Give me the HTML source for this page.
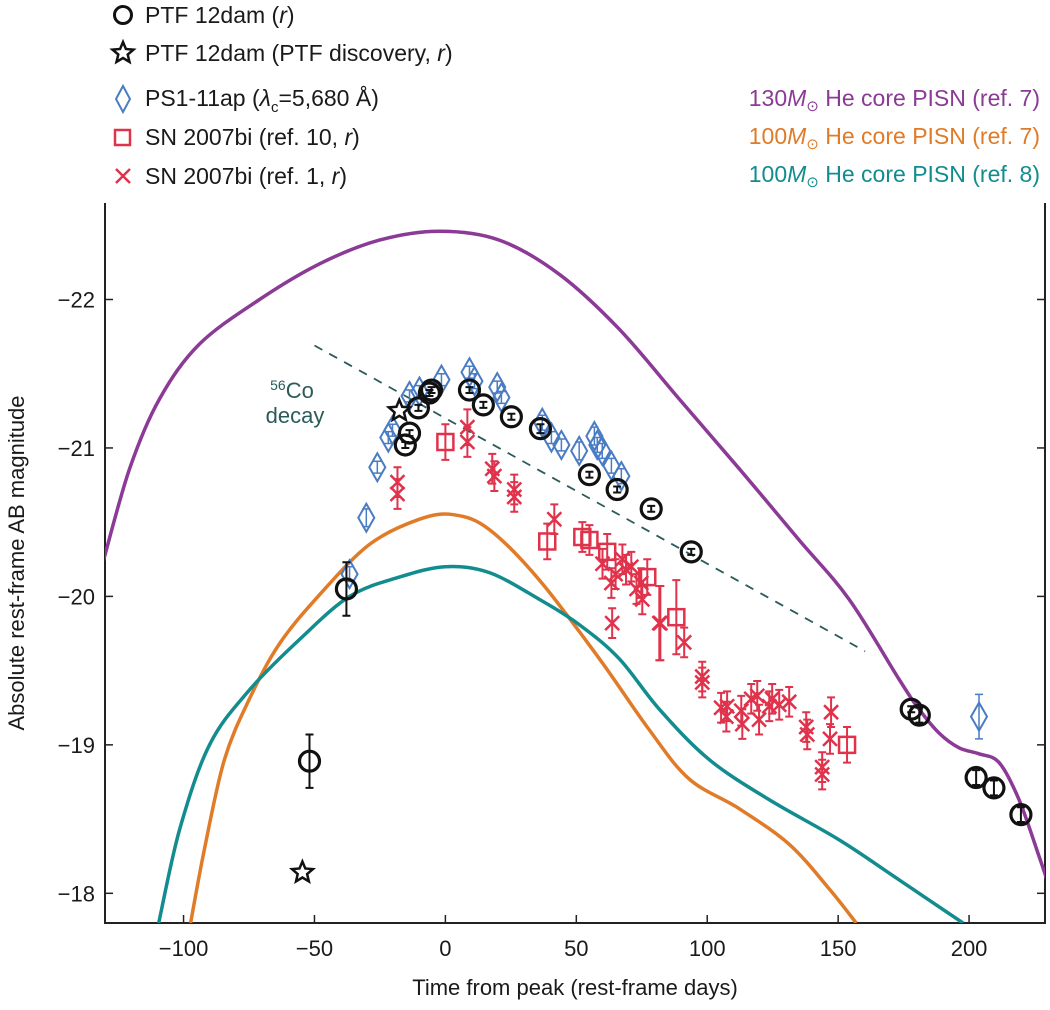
<!DOCTYPE html>
<html><head><meta charset="utf-8"><style>
body{margin:0;background:#fff;}
svg text{font-family:"Liberation Sans",Arial,sans-serif;}
</style></head><body>
<svg id="chart" width="1050" height="1005" viewBox="0 0 1050 1005" xmlns="http://www.w3.org/2000/svg">
<g id="legend" font-size="23" fill="#1a1a1a">
 <g><circle cx="123" cy="15" r="8.5" fill="none" stroke="#111" stroke-width="3"/><text x="145" y="23">PTF 12dam (<tspan font-style="italic">r</tspan>)</text></g>
 <g><polygon id="legstar" fill="none" stroke="#111" stroke-width="2.5"/><text x="145" y="61">PTF 12dam (PTF discovery, <tspan font-style="italic">r</tspan>)</text></g>
 <g><polygon points="123,86 130,99 123,112 116,99" fill="none" stroke="#4a7cc4" stroke-width="2"/><text x="145" y="106">PS1-11ap (<tspan font-style="italic">λ</tspan><tspan font-size="15" dy="6">c</tspan><tspan dy="-6">=5,680 Å)</tspan></text></g>
 <g><rect x="115" y="130" width="15" height="15" fill="none" stroke="#e0324b" stroke-width="2.5"/><text x="145" y="145">SN 2007bi (ref. 10, <tspan font-style="italic">r</tspan>)</text></g>
 <g><path d="M116,169 L130,183 M130,169 L116,183" stroke="#e0324b" stroke-width="2.5"/><text x="145" y="184">SN 2007bi (ref. 1, <tspan font-style="italic">r</tspan>)</text></g>
 <text x="1040" y="106" text-anchor="end" fill="#8b3a96">130<tspan font-style="italic">M</tspan><tspan font-size="15" dy="5">⊙</tspan><tspan dy="-5"> He core PISN (ref. 7)</tspan></text>
 <text x="1040" y="144" text-anchor="end" fill="#e07b28">100<tspan font-style="italic">M</tspan><tspan font-size="15" dy="5">⊙</tspan><tspan dy="-5"> He core PISN (ref. 7)</tspan></text>
 <text x="1040" y="182" text-anchor="end" fill="#138c8f">100<tspan font-style="italic">M</tspan><tspan font-size="15" dy="5">⊙</tspan><tspan dy="-5"> He core PISN (ref. 8)</tspan></text>
</g>
<defs><clipPath id="clip"><rect x="105" y="203" width="940" height="720"/></clipPath></defs>
<g id="plot"></g>
<text x="292" y="398" font-size="22" fill="#2b5b5a" text-anchor="middle"><tspan font-size="14" dy="-8">56</tspan><tspan dy="8">Co</tspan></text>
<text x="295" y="423" font-size="22" fill="#2b5b5a" text-anchor="middle">decay</text>
<text x="575" y="995" font-size="22" text-anchor="middle" fill="#1a1a1a">Time from peak (rest-frame days)</text>
<text transform="translate(24,563) rotate(-90)" font-size="22" text-anchor="middle" fill="#1a1a1a">Absolute rest-frame AB magnitude</text>
</svg>
<script>
const xTicks=[-100,-50,0,50,100,150,200];
const yTicks=[-22,-21,-20,-19,-18];
const ptfDays=[-37.8,-15.3,-13.7,-10.3,-6.1,-5.3,9.2,14.5,25.2,36.3,55,65.6,78.6,93.9,-51.9,177.9,181,202.7,209.5,219.8];
const ptfMags=[-20.05,-21.02,-21.10,-21.27,-21.37,-21.39,-21.39,-21.29,-21.21,-21.13,-20.82,-20.72,-20.59,-20.30,-18.89,-19.24,-19.20,-18.78,-18.71,-18.53];
const ptfErr=[0.18,0.02,0.02,0.02,0.02,0.02,0.02,0.02,0.02,0.03,0.02,0.02,0.02,0.02,0.18,0.02,0.05,0.05,0.05,0.05];
const starDays=[-17.6,-54.6];
const starMags=[-21.25,-18.14];
const psDays=[-30.2,-26.0,-21.8,-20.2,-13.7,-9.9,-1.5,9.2,11.1,19.8,21.4,37.0,40.5,44.3,51.1,56.9,58.0,59.9,63.4,67.2,-36.6,203.8];
const psMags=[-20.53,-20.87,-21.07,-21.12,-21.35,-21.38,-21.46,-21.51,-21.45,-21.41,-21.34,-21.17,-21.07,-21.02,-20.98,-21.08,-21.02,-20.98,-20.88,-20.81,-20.15,-19.19];
const psErr=[0.06,0.04,0.04,0.04,0.04,0.04,0.04,0.04,0.05,0.04,0.04,0.05,0.04,0.04,0.06,0.06,0.05,0.05,0.05,0.05,0.05,0.15];
const sqDays=[0,38.9,52.3,55,61.8,77.1,88.2,153.4];
const sqMags=[-21.04,-20.37,-20.40,-20.38,-20.30,-20.13,-19.86,-19.0];
const sqErr=[0.12,0.12,0.1,0.1,0.12,0.12,0.25,0.12];
const xDays=[-18.3,-18.3,8.4,8.4,17.9,18.7,26.3,26.3,41.6,63.4,69,74.8,75.2,63.7,81.7,67.6,82.1,91.2,98.1,98.1,105.3,107.6,107.3,113.0,113.4,116.8,119.1,119.8,123.7,124.8,127.5,131.3,137.8,138.2,147.3,146.9,143.9,143.9,60,65,71,73];
const xMags=[-20.77,-20.69,-21.14,-21.04,-20.86,-20.81,-20.72,-20.67,-20.52,-20.09,-20.18,-20.09,-19.98,-19.82,-19.82,-20.25,-19.82,-19.69,-19.46,-19.42,-19.25,-19.26,-19.19,-19.23,-19.14,-19.31,-19.33,-19.17,-19.26,-19.31,-19.27,-19.29,-19.12,-19.07,-19.22,-19.04,-18.85,-18.80,-20.22,-20.15,-20.2,-20.05];
const xErr=[0.1,0.1,0.12,0.1,0.1,0.1,0.1,0.1,0.1,0.1,0.1,0.1,0.1,0.1,0.25,0.1,0.25,0.1,0.1,0.1,0.1,0.1,0.1,0.1,0.1,0.1,0.1,0.1,0.1,0.1,0.1,0.1,0.1,0.1,0.1,0.1,0.1,0.1,0.1,0.1,0.1,0.1];
const m130Days=[-130.9,-120.6,-109.2,-93.9,-71,-48.1,-25.2,-2.3,20.6,43.5,66.4,89.3,112.2,135.1,154.2,173.3,180.9,188.5,196.2,203.8,211.5,219.1,226.7,230.5];
const m130Mags=[-20.22,-20.86,-21.33,-21.70,-22.0,-22.24,-22.40,-22.46,-22.40,-22.17,-21.80,-21.33,-20.86,-20.38,-19.98,-19.44,-19.24,-19.08,-18.98,-18.94,-18.88,-18.63,-18.25,-18.05];
const m100aDays=[-97.3,-92,-84.4,-74.8,-63.4,-48.1,-29,-9.9,3.4,16.8,35.9,58.8,77.9,93.1,112.2,131.3,146.6,156.9];
const m100aMags=[-17.80,-18.30,-18.90,-19.31,-19.68,-20.01,-20.35,-20.52,-20.55,-20.45,-20.11,-19.58,-19.10,-18.77,-18.57,-18.33,-18.03,-17.80];
const m100bDays=[-109.5,-101.5,-90.1,-74.8,-55.7,-36.6,-17.6,0,16.8,35.9,51.1,66.4,81.7,100.8,123.7,150.4,173.3,197.7];
const m100bMags=[-17.80,-18.43,-19.0,-19.37,-19.71,-20.0,-20.13,-20.20,-20.16,-19.98,-19.81,-19.58,-19.24,-18.9,-18.63,-18.36,-18.09,-17.80];
const coDays=[-50,160.3];
const coMags=[-21.69,-19.63];

const X0=105,X1=1045,Y0=203,Y1=923,D0=-130,D1=229,M0=-22.65,M1=-17.8;
function sx(d){return X0+(d-D0)/(D1-D0)*(X1-X0);}
function sy(m){return Y0+(m-M0)/(M1-M0)*(Y1-Y0);}
const NS="http://www.w3.org/2000/svg";
const plot=document.getElementById('plot');
function mk(tag,attrs,parent){const e=document.createElementNS(NS,tag);for(const k in attrs)e.setAttribute(k,attrs[k]);(parent||plot).appendChild(e);return e;}
function starPts(cx,cy,R){let p=[];for(let i=0;i<10;i++){const a=-Math.PI/2+i*Math.PI/5;const r=i%2?R*0.45:R;p.push((cx+r*Math.cos(a)).toFixed(1)+','+(cy+r*Math.sin(a)).toFixed(1));}return p.join(' ');}
document.getElementById('legstar').setAttribute('points',starPts(123,53,11));

const frame=mk('path',{d:`M${X0},${Y0} L${X0},${Y1} L${X1},${Y1} L${X1},${Y0}`,fill:'none',stroke:'#222','stroke-width':2});


xTicks.forEach(t=>{
 const l=mk('line',{x1:sx(t),x2:sx(t),y1:Y1,y2:Y1-8,stroke:'#222','stroke-width':1.5});
 
 
 const tx=mk('text',{x:sx(t),y:Y1+33,'font-size':22,'text-anchor':'middle',fill:'#1a1a1a'});
 tx.textContent=(t<0?'\u2212'+(-t):t);
 
 
});
yTicks.forEach(t=>{
 const l=mk('line',{x1:X0,x2:X0+8,y1:sy(t),y2:sy(t),stroke:'#222','stroke-width':1.5});
 
 
 const l2=mk('line',{x1:X1,x2:X1-8,y1:sy(t),y2:sy(t),stroke:'#222','stroke-width':1.5});
 
 
 const tx=mk('text',{x:X0-10,y:sy(t)+8,'font-size':22,'text-anchor':'end',fill:'#1a1a1a'});
 tx.textContent='\u2212'+(-t);
 
 
});
const g=mk('g',{'clip-path':'url(#clip)'});


function smoothPath(pts){
 let d=`M${pts[0][0].toFixed(1)},${pts[0][1].toFixed(1)}`;
 for(let i=0;i<pts.length-1;i++){
  const p0=pts[i-1]||pts[i],p1=pts[i],p2=pts[i+1],p3=pts[i+2]||p2;
  const c1=[p1[0]+(p2[0]-p0[0])/6,p1[1]+(p2[1]-p0[1])/6];
  const c2=[p2[0]-(p3[0]-p1[0])/6,p2[1]-(p3[1]-p1[1])/6];
  d+=` C${c1[0].toFixed(1)},${c1[1].toFixed(1)} ${c2[0].toFixed(1)},${c2[1].toFixed(1)} ${p2[0].toFixed(1)},${p2[1].toFixed(1)}`;
 }
 return d;
}
function line(ds,ms,color,name,dash){
 const pts=ds.map((d,i)=>[sx(d),sy(ms[i])]);
 const p=mk('path',{d:smoothPath(pts),fill:'none',stroke:color,'stroke-width':dash?1.8:3.5,'stroke-linejoin':'round'},g);
 if(dash)p.setAttribute('stroke-dasharray',dash);
 
 
}
line(m130Days,m130Mags,'#8b3a96','model-130-ref7');
line(m100aDays,m100aMags,'#e07b28','model-100-ref7');
line(m100bDays,m100bMags,'#138c8f','model-100-ref8');
line(coDays,coMags,'#2b5b5a','co-decay-line','9,8');
function errbar(x,m,e,color,w){
 const y1=sy(m-e),y2=sy(m+e);
 const p=mk('path',{d:`M${x},${y1} L${x},${y2} M${x-4},${y1} L${x+4},${y1} M${x-4},${y2} L${x+4},${y2}`,stroke:color,'stroke-width':w||2,fill:'none'},g);
 
 
}
xDays.forEach((d,i)=>{const x=sx(d),y=sy(xMags[i]);errbar(x,xMags[i],xErr[i],'#e0324b');
 const p=mk('path',{d:`M${x-7},${y-7} L${x+7},${y+7} M${x+7},${y-7} L${x-7},${y+7}`,stroke:'#e0324b','stroke-width':2.5},g);
 
 });
sqDays.forEach((d,i)=>{const x=sx(d),y=sy(sqMags[i]);errbar(x,sqMags[i],sqErr[i],'#e0324b');
 const r=mk('rect',{x:x-8,y:y-8,width:16,height:16,fill:'none',stroke:'#e0324b','stroke-width':2.5},g);
 
 });
psDays.forEach((d,i)=>{const x=sx(d),y=sy(psMags[i]);errbar(x,psMags[i],psErr[i],'#4a7cc4',1.5);
 const p=mk('polygon',{points:`${x},${y-14} ${x+8},${y} ${x},${y+14} ${x-8},${y}`,fill:'none',stroke:'#4a7cc4','stroke-width':2},g);
 
 });
ptfDays.forEach((d,i)=>{const x=sx(d),y=sy(ptfMags[i]);errbar(x,ptfMags[i],ptfErr[i],'#111');
 const c=mk('circle',{cx:x,cy:y,r:10,fill:'none',stroke:'#111','stroke-width':3.2},g);
 
 });
starDays.forEach((d,i)=>{
 const s=mk('polygon',{points:starPts(sx(d),sy(starMags[i]),11),fill:'none',stroke:'#111','stroke-width':2.5},g);
 
 });
</script>
</body></html>
